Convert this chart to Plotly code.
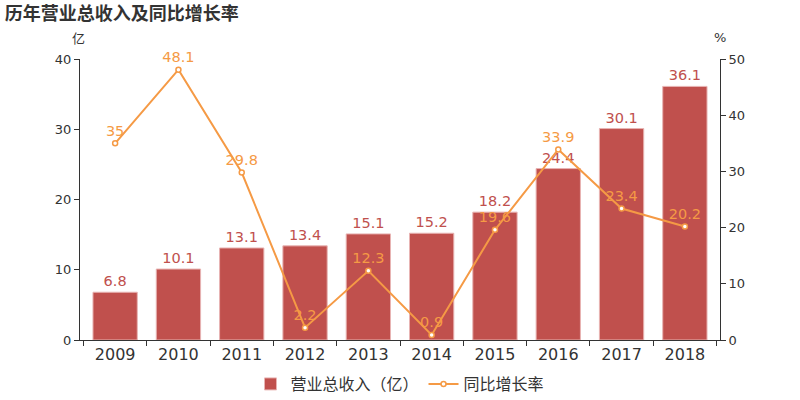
import plotly.graph_objects as go

years = ["2009", "2010", "2011", "2012", "2013", "2014", "2015", "2016", "2017", "2018"]
revenue = [6.8, 10.1, 13.1, 13.4, 15.1, 15.2, 18.2, 24.4, 30.1, 36.1]
growth = [35, 48.1, 29.8, 2.2, 12.3, 0.9, 19.6, 33.9, 23.4, 20.2]

bar_color = "#c0504d"
line_color = "#f59a45"
font_cjk = "Noto Sans CJK SC, DejaVu Sans, sans-serif"
font_num = "DejaVu Sans, sans-serif"

fig = go.Figure()
fig.add_trace(go.Bar(
    x=years, y=revenue, name="营业总收入（亿）",
    marker=dict(color=bar_color, line=dict(color="#e8b4b3", width=1)),
    width=0.7,
    text=[str(v) for v in revenue], textposition="outside",
    textfont=dict(color=bar_color, size=14.5, family=font_num),
    cliponaxis=False,
))
fig.add_trace(go.Scatter(
    x=years, y=growth, name="同比增长率", yaxis="y2",
    mode="lines+markers+text",
    line=dict(color=line_color, width=2),
    marker=dict(symbol="circle", size=5, color="white", line=dict(color=line_color, width=1.5)),
    text=[str(v) for v in growth], textposition="top center",
    textfont=dict(color=line_color, size=14.5, family=font_num),
    cliponaxis=False,
))

fig.update_layout(
    width=800, height=400,
    margin=dict(l=80, r=80, t=59, b=60, autoexpand=False),
    paper_bgcolor="white", plot_bgcolor="white",
    showlegend=True,
    legend=dict(orientation="h", x=0.5, xanchor="center", xref="container",
                y=0.04, yanchor="middle", yref="container",
                font=dict(size=16, family=font_cjk, color="#333")),
    title=dict(text="<b>历年营业总收入及同比增长率</b>", x=0.006, xanchor="left", xref="container",
               y=0.966, yanchor="middle", yref="container",
               font=dict(size=18, family=font_cjk, color="#333")),
    xaxis=dict(type="category", showline=True, linecolor="#333", ticks="outside", tickson="boundaries",
               ticklen=5, tickcolor="#333", tickfont=dict(size=16, family=font_num, color="#333"),
               showgrid=False),
    yaxis=dict(range=[0, 40], dtick=10, showline=True, linecolor="#333", ticks="outside", ticklen=5,
               tickcolor="#333", showgrid=False, zeroline=False,
               tickfont=dict(size=13, family=font_num, color="#333")),
    yaxis2=dict(range=[0, 50], dtick=10, overlaying="y", side="right", showline=True, linecolor="#333",
                ticks="outside", ticklen=5, tickcolor="#333", showgrid=False, zeroline=False,
                tickfont=dict(size=13, family=font_num, color="#333")),
    annotations=[
        dict(text="亿", xref="paper", yref="paper", x=-0.003, y=1.075, xanchor="center", yanchor="middle",
             showarrow=False, font=dict(size=13, family=font_cjk, color="#333")),
        dict(text="%", xref="paper", yref="paper", x=1.0, y=1.075, xanchor="center", yanchor="middle",
             showarrow=False, font=dict(size=13, family=font_num, color="#333")),
    ],
)

fig.write_html("out.html")
